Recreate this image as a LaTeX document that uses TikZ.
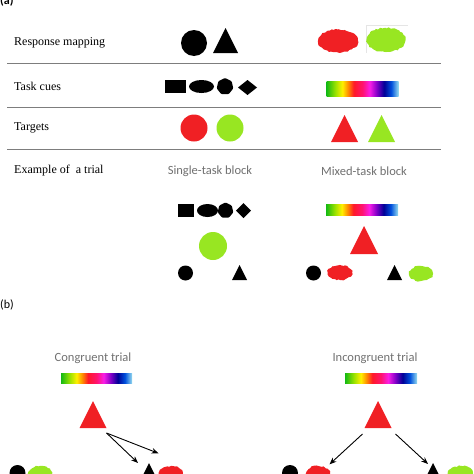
\documentclass[tikz,border=0pt]{standalone}
\usepackage{fontspec}
\setmainfont{Liberation Serif}
\newfontfamily\calibri{Carlito}
\usetikzlibrary{shapes.geometric, decorations.pathmorphing, arrows.meta}

\definecolor{tred}{RGB}{240,32,36}
\definecolor{tgreen}{RGB}{152,230,34}
\definecolor{rulegray}{RGB}{125,125,125}
\definecolor{hdrgray}{RGB}{112,112,112}
\definecolor{rb1}{RGB}{20,185,20}
\definecolor{rb2}{RGB}{150,225,0}
\definecolor{rb3}{RGB}{255,240,0}
\definecolor{rb4}{RGB}{255,140,0}
\definecolor{rb5}{RGB}{255,25,40}
\definecolor{rb6}{RGB}{255,20,110}
\definecolor{rb7}{RGB}{250,30,230}
\definecolor{rb8}{RGB}{130,0,200}
\definecolor{rb9}{RGB}{0,0,150}
\definecolor{rb10}{RGB}{0,80,220}
\definecolor{rb11}{RGB}{150,220,240}
\pgfdeclarehorizontalshading{rainbow}{100bp}{color(0bp)=(rb1); color(25bp)=(rb1);
  color(31bp)=(rb2); color(36bp)=(rb3); color(40bp)=(rb4); color(44bp)=(rb5);
  color(50bp)=(rb6); color(55bp)=(rb7); color(60bp)=(rb8); color(65bp)=(rb9);
  color(70bp)=(rb10); color(75bp)=(rb11); color(100bp)=(rb11)}
\pgfmathsetseed{11}

\begin{document}
\begin{tikzpicture}[x=1pt, y=-1pt,
        shp/.style={fill=black, inner sep=0pt, outer sep=0pt},
        dot/.style={shp, circle, minimum size=#1},
        tri/.style={shp, isosceles triangle, shape border rotate=90, anchor=lower side,
            isosceles triangle stretches, minimum width=#1, minimum height=#1},
        blob/.style={shp, ellipse, decorate,
            decoration={random steps, segment length=2pt, amplitude=0.7pt}},
        bar/.style={rectangle, shading=rainbow, inner sep=0pt,
            minimum width=72pt, minimum height=#1},
        rowlbl/.style={anchor=west, inner sep=0pt, font=\fontsize{12}{14}\selectfont},
        hdr/.style={font=\calibri\fontsize{12.5}{15}\selectfont, text=hdrgray},
        rule/.style={draw=rulegray, line width=0.8pt},
        arr/.style={-{Stealth[length=7pt, width=5.5pt]}, line width=0.9pt}]
    \useasboundingbox (0,0) rectangle (474,474);

    \node[anchor=base west, inner sep=0pt, font=\calibri\bfseries\fontsize{12}{14}\selectfont] (taga) at (0,4) {(a)};
    \node[rowlbl] (lblmap) at (14,43) {Response mapping};
    \node[rowlbl] (lblcue) at (14,86) {Task cues};
    \node[rowlbl] (lbltgt) at (14,128) {Targets};
    \node[rowlbl] (lbltrial) at (14,171) {Example of~ a trial};
    \draw[rule] (7,63) -- (441,63);
    \draw[rule] (7,107) -- (441,107);
    \draw[rule] (7,149) -- (441,149);

    \node[dot=26pt] (mapcirc) at (194,43) {};
    \node[tri=25pt] (maptri) at (225.5,53) {};
    \node[blob, fill=tred, minimum width=40pt, minimum height=23pt] (mapred) at (338,41) {};
    \draw[black!10] (366.5,53) |- (408,25.5);
    \node[blob, fill=tgreen, minimum width=39pt, minimum height=24pt] (mapgreen) at (386,40) {};

    \node[shp, minimum width=21pt, minimum height=13pt] (cuesq) at (175.5,86.5) {};
    \node[shp, ellipse, minimum width=25pt, minimum height=13pt] (cueell) at (201.5,86.5) {};
    \node[shp, regular polygon, regular polygon sides=7, minimum size=17pt, rounded corners=1pt] (cuehep) at (225,86.5) {};
    \node[shp, diamond, minimum width=19pt, minimum height=15pt] (cuedia) at (247.5,87.5) {};
    \node[bar=15pt] (cuebar) at (362.5,88.5) {};

    \node[dot=27pt, fill=tred] (tgtred) at (194,128) {};
    \node[dot=27pt, fill=tgreen] (tgtgreen) at (230,128) {};
    \node[tri=27pt, fill=tred] (tgtredtri) at (344.5,142) {};
    \node[tri=27pt, fill=tgreen] (tgtgreentri) at (381.5,142) {};

    \node[hdr] (hdrsingle) at (210,171) {Single-task block};
    \node[hdr] (hdrmixed) at (364,171) {Mixed-task block};

    \node[shp, minimum width=16pt, minimum height=13pt] (ssq) at (186,210.5) {};
    \node[shp, ellipse, minimum width=21pt, minimum height=13pt] (sell) at (207.5,210.5) {};
    \node[shp, regular polygon, regular polygon sides=7, minimum size=16pt, rounded corners=1pt] (shep) at (225.5,210.5) {};
    \node[shp, diamond, minimum width=15pt, minimum height=15pt] (sdia) at (243.5,210.5) {};
    \node[dot=28pt, fill=tgreen] (sgreen) at (213,246) {};
    \node[dot=15pt] (scirc) at (185.5,273) {};
    \node[tri=15pt] (stri) at (239.5,280) {};

    \node[bar=11pt] (mbar) at (362,209.5) {};
    \node[tri=28pt, fill=tred] (mtri) at (364,254) {};
    \node[dot=15pt] (mcirc) at (313.5,273) {};
    \node[blob, fill=tred, minimum width=24pt, minimum height=15pt] (mred) at (340,272.5) {};
    \node[tri=15pt] (mbtri) at (394.5,280) {};
    \node[blob, fill=tgreen, minimum width=24pt, minimum height=15pt] (mgreen) at (421,273.5) {};

    \node[anchor=west, inner sep=0pt, font=\calibri\fontsize{12}{14}\selectfont] (tagb) at (0,305) {(b)};
    \node[hdr] (hdrcong) at (93,358) {Congruent trial};
    \node[hdr] (hdrincong) at (375,358) {Incongruent trial};

    \node[bar=10pt, minimum width=71pt] (cbar) at (96.5,378) {};
    \node[tri=27pt, fill=tred] (ctri) at (93,428) {};
    \node[dot=16pt] (ccirc) at (17.5,473) {};
    \node[blob, fill=tgreen, minimum width=24pt, minimum height=16pt] (cgblob) at (40,474) {};
    \node[tri=15pt] (cbtri) at (149,478) {};
    \node[blob, fill=tred, minimum width=24pt, minimum height=16pt] (crblob) at (171,474) {};

    \node[bar=10pt] (ibar) at (381,378) {};
    \node[tri=27pt, fill=tred] (itri) at (378,428) {};
    \node[dot=16pt] (icirc) at (290,473) {};
    \node[blob, fill=tred, minimum width=24pt, minimum height=16pt] (irblob) at (318,474) {};
    \node[tri=15pt] (ibtri) at (433,478) {};
    \node[blob, fill=tgreen, minimum width=25pt, minimum height=16pt] (igblob) at (460.5,474) {};

    \draw[arr] ([yshift=-5pt]ctri.right corner) -- ([xshift=-11pt]cbtri.apex);
    \draw[arr] ([yshift=-5pt]ctri.right corner) -- ([shift={(-4pt,15pt)}]crblob.north west);
    \draw[arr] ([shift={(-2pt,-6pt)}]itri.left corner) -- ([shift={(3pt,4pt)}]irblob.north east);
    \draw[arr] ([shift={(4pt,-6pt)}]itri.right corner) -- ([shift={(-5pt,-1pt)}]ibtri.apex);
\end{tikzpicture}
\end{document}
